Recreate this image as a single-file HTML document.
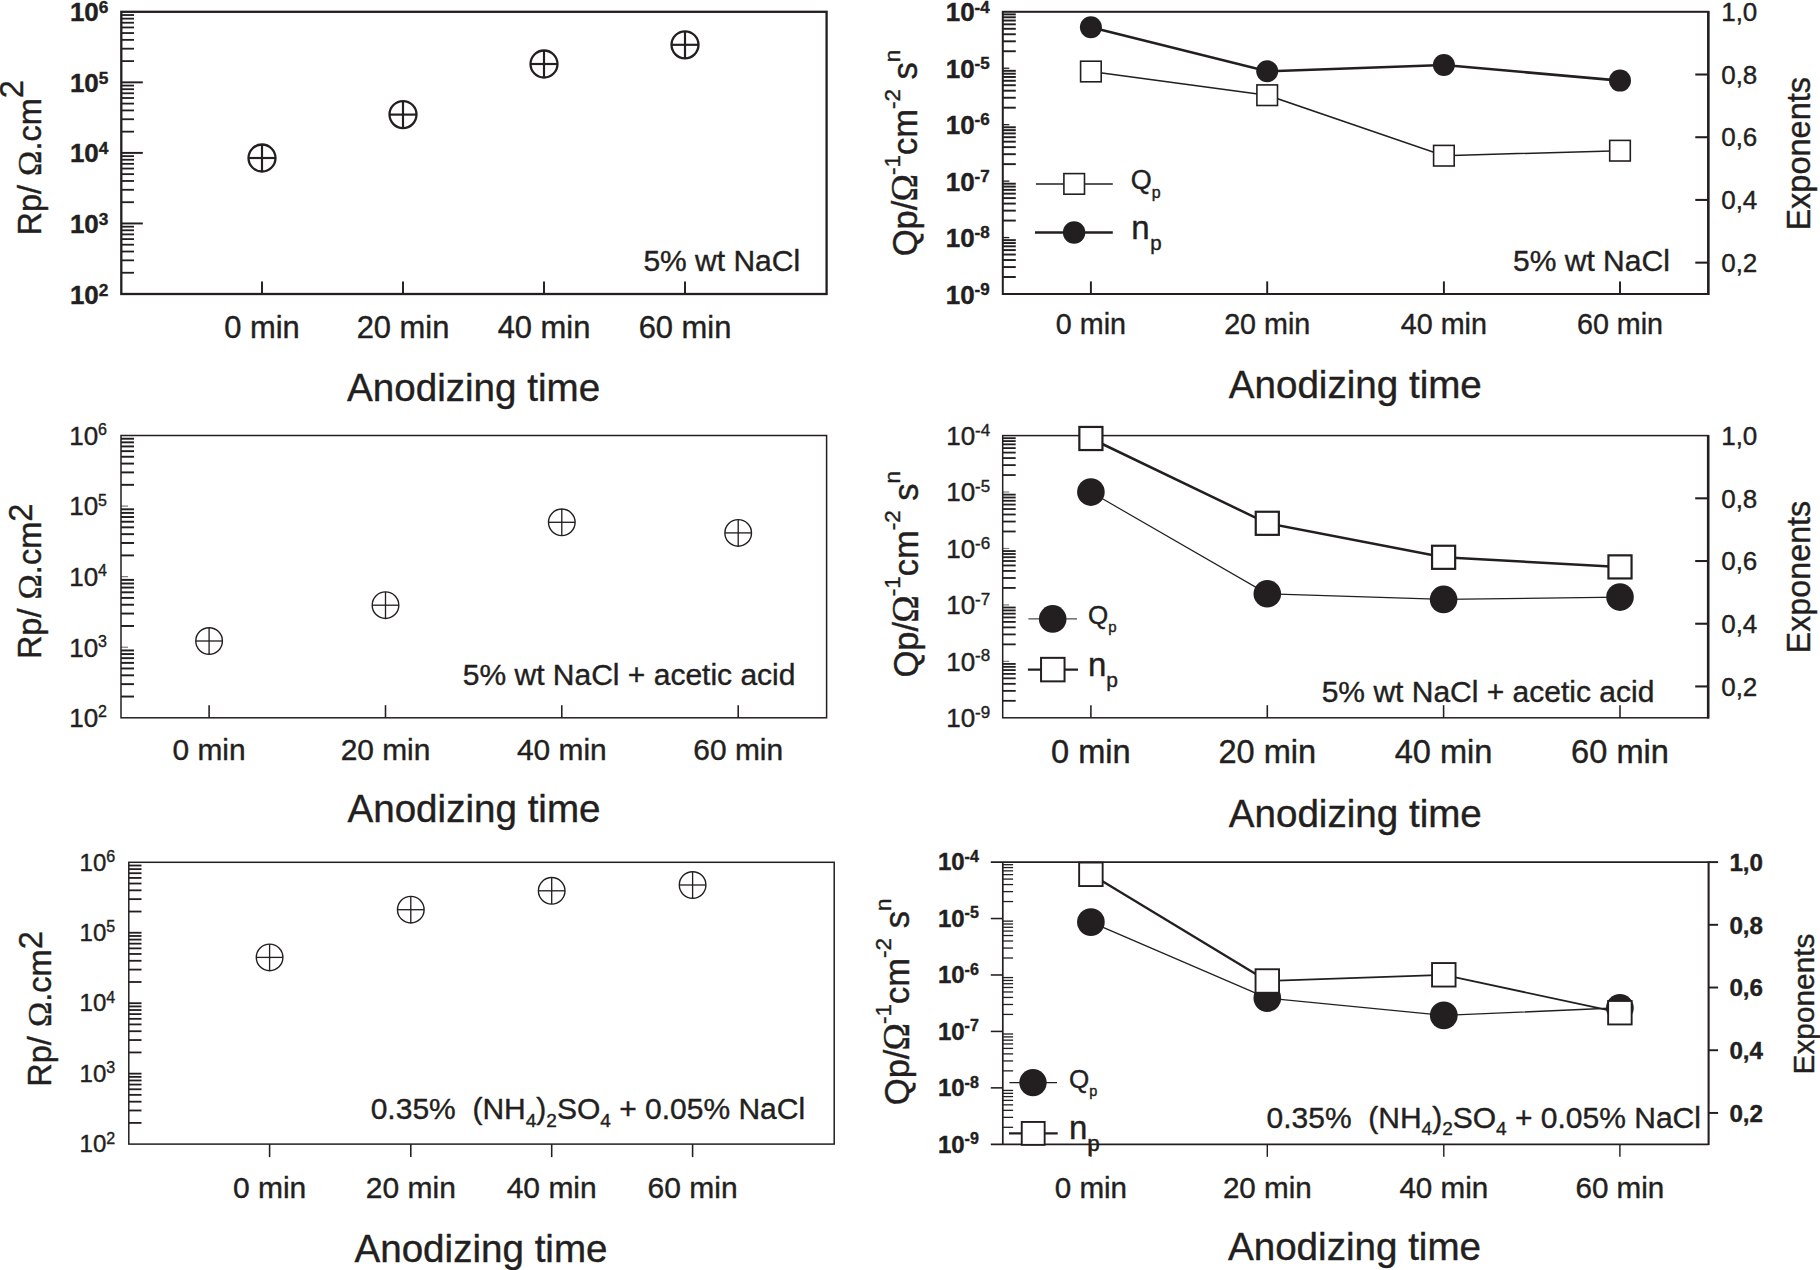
<!DOCTYPE html>
<html lang="en">
<head>
<meta charset="utf-8">
<title>Anodizing time plots</title>
<style>
html,body{margin:0;padding:0;background:#fff;}
body{width:1820px;height:1270px;overflow:hidden;}
svg{display:block;font-family:"Liberation Sans",Arial,Helvetica,sans-serif;fill:#231f20;}
text{stroke:#231f20;stroke-width:0.4px;stroke-linejoin:round;}
</style>
</head>
<body>
<svg width="1820" height="1270" viewBox="0 0 1820 1270">
<rect x="0" y="0" width="1820" height="1270" fill="#ffffff"/>
<line x1="121.3" y1="272.76" x2="134" y2="272.76" stroke="#231f20" stroke-width="1.82" stroke-linecap="butt"/>
<line x1="121.3" y1="260.34" x2="134" y2="260.34" stroke="#231f20" stroke-width="1.82" stroke-linecap="butt"/>
<line x1="121.3" y1="251.52" x2="134" y2="251.52" stroke="#231f20" stroke-width="1.82" stroke-linecap="butt"/>
<line x1="121.3" y1="244.69" x2="134" y2="244.69" stroke="#231f20" stroke-width="1.82" stroke-linecap="butt"/>
<line x1="121.3" y1="239.1" x2="134" y2="239.1" stroke="#231f20" stroke-width="1.82" stroke-linecap="butt"/>
<line x1="121.3" y1="234.38" x2="134" y2="234.38" stroke="#231f20" stroke-width="1.82" stroke-linecap="butt"/>
<line x1="121.3" y1="230.29" x2="134" y2="230.29" stroke="#231f20" stroke-width="1.82" stroke-linecap="butt"/>
<line x1="121.3" y1="226.68" x2="134" y2="226.68" stroke="#231f20" stroke-width="1.82" stroke-linecap="butt"/>
<line x1="121.3" y1="202.21" x2="134" y2="202.21" stroke="#231f20" stroke-width="1.82" stroke-linecap="butt"/>
<line x1="121.3" y1="189.79" x2="134" y2="189.79" stroke="#231f20" stroke-width="1.82" stroke-linecap="butt"/>
<line x1="121.3" y1="180.97" x2="134" y2="180.97" stroke="#231f20" stroke-width="1.82" stroke-linecap="butt"/>
<line x1="121.3" y1="174.14" x2="134" y2="174.14" stroke="#231f20" stroke-width="1.82" stroke-linecap="butt"/>
<line x1="121.3" y1="168.55" x2="134" y2="168.55" stroke="#231f20" stroke-width="1.82" stroke-linecap="butt"/>
<line x1="121.3" y1="163.83" x2="134" y2="163.83" stroke="#231f20" stroke-width="1.82" stroke-linecap="butt"/>
<line x1="121.3" y1="159.74" x2="134" y2="159.74" stroke="#231f20" stroke-width="1.82" stroke-linecap="butt"/>
<line x1="121.3" y1="156.13" x2="134" y2="156.13" stroke="#231f20" stroke-width="1.82" stroke-linecap="butt"/>
<line x1="121.3" y1="223.45" x2="142.8" y2="223.45" stroke="#231f20" stroke-width="1.95" stroke-linecap="butt"/>
<line x1="121.3" y1="131.66" x2="134" y2="131.66" stroke="#231f20" stroke-width="1.82" stroke-linecap="butt"/>
<line x1="121.3" y1="119.24" x2="134" y2="119.24" stroke="#231f20" stroke-width="1.82" stroke-linecap="butt"/>
<line x1="121.3" y1="110.42" x2="134" y2="110.42" stroke="#231f20" stroke-width="1.82" stroke-linecap="butt"/>
<line x1="121.3" y1="103.59" x2="134" y2="103.59" stroke="#231f20" stroke-width="1.82" stroke-linecap="butt"/>
<line x1="121.3" y1="98" x2="134" y2="98" stroke="#231f20" stroke-width="1.82" stroke-linecap="butt"/>
<line x1="121.3" y1="93.28" x2="134" y2="93.28" stroke="#231f20" stroke-width="1.82" stroke-linecap="butt"/>
<line x1="121.3" y1="89.19" x2="134" y2="89.19" stroke="#231f20" stroke-width="1.82" stroke-linecap="butt"/>
<line x1="121.3" y1="85.58" x2="134" y2="85.58" stroke="#231f20" stroke-width="1.82" stroke-linecap="butt"/>
<line x1="121.3" y1="152.9" x2="142.8" y2="152.9" stroke="#231f20" stroke-width="1.95" stroke-linecap="butt"/>
<line x1="121.3" y1="61.11" x2="134" y2="61.11" stroke="#231f20" stroke-width="1.82" stroke-linecap="butt"/>
<line x1="121.3" y1="48.69" x2="134" y2="48.69" stroke="#231f20" stroke-width="1.82" stroke-linecap="butt"/>
<line x1="121.3" y1="39.87" x2="134" y2="39.87" stroke="#231f20" stroke-width="1.82" stroke-linecap="butt"/>
<line x1="121.3" y1="33.04" x2="134" y2="33.04" stroke="#231f20" stroke-width="1.82" stroke-linecap="butt"/>
<line x1="121.3" y1="27.45" x2="134" y2="27.45" stroke="#231f20" stroke-width="1.82" stroke-linecap="butt"/>
<line x1="121.3" y1="22.73" x2="134" y2="22.73" stroke="#231f20" stroke-width="1.82" stroke-linecap="butt"/>
<line x1="121.3" y1="18.64" x2="134" y2="18.64" stroke="#231f20" stroke-width="1.82" stroke-linecap="butt"/>
<line x1="121.3" y1="15.03" x2="134" y2="15.03" stroke="#231f20" stroke-width="1.82" stroke-linecap="butt"/>
<line x1="121.3" y1="82.35" x2="142.8" y2="82.35" stroke="#231f20" stroke-width="1.95" stroke-linecap="butt"/>
<line x1="262" y1="294" x2="262" y2="281.4" stroke="#231f20" stroke-width="1.95" stroke-linecap="butt"/>
<line x1="403" y1="294" x2="403" y2="281.4" stroke="#231f20" stroke-width="1.95" stroke-linecap="butt"/>
<line x1="544" y1="294" x2="544" y2="281.4" stroke="#231f20" stroke-width="1.95" stroke-linecap="butt"/>
<line x1="685" y1="294" x2="685" y2="281.4" stroke="#231f20" stroke-width="1.95" stroke-linecap="butt"/>
<rect x="121.3" y="11.8" width="705.3" height="282.2" fill="none" stroke="#231f20" stroke-width="2.3"/>
<text x="69.9" y="21.3" font-size="26" font-weight="bold">10<tspan font-size="17.3" dy="-8">6</tspan></text>
<text x="69.9" y="91.85" font-size="26" font-weight="bold">10<tspan font-size="17.3" dy="-8">5</tspan></text>
<text x="69.9" y="162.4" font-size="26" font-weight="bold">10<tspan font-size="17.3" dy="-8">4</tspan></text>
<text x="69.9" y="232.95" font-size="26" font-weight="bold">10<tspan font-size="17.3" dy="-8">3</tspan></text>
<text x="69.9" y="303.5" font-size="26" font-weight="bold">10<tspan font-size="17.3" dy="-8">2</tspan></text>
<circle cx="262" cy="158" r="13.5" fill="none" stroke="#231f20" stroke-width="2.3"/>
<line x1="248.5" y1="158" x2="275.5" y2="158" stroke="#231f20" stroke-width="2.18" stroke-linecap="butt"/>
<line x1="262" y1="144.5" x2="262" y2="171.5" stroke="#231f20" stroke-width="2.18" stroke-linecap="butt"/>
<circle cx="403" cy="114.6" r="13.5" fill="none" stroke="#231f20" stroke-width="2.3"/>
<line x1="389.5" y1="114.6" x2="416.5" y2="114.6" stroke="#231f20" stroke-width="2.18" stroke-linecap="butt"/>
<line x1="403" y1="101.1" x2="403" y2="128.1" stroke="#231f20" stroke-width="2.18" stroke-linecap="butt"/>
<circle cx="544" cy="64" r="13.5" fill="none" stroke="#231f20" stroke-width="2.3"/>
<line x1="530.5" y1="64" x2="557.5" y2="64" stroke="#231f20" stroke-width="2.18" stroke-linecap="butt"/>
<line x1="544" y1="50.5" x2="544" y2="77.5" stroke="#231f20" stroke-width="2.18" stroke-linecap="butt"/>
<circle cx="685" cy="44.8" r="13.5" fill="none" stroke="#231f20" stroke-width="2.3"/>
<line x1="671.5" y1="44.8" x2="698.5" y2="44.8" stroke="#231f20" stroke-width="2.18" stroke-linecap="butt"/>
<line x1="685" y1="31.3" x2="685" y2="58.3" stroke="#231f20" stroke-width="2.18" stroke-linecap="butt"/>
<text x="643.4" y="270.8" font-size="30" font-weight="normal" text-anchor="start">5% wt NaCl</text>
<text x="262" y="337.7" font-size="30.9" font-weight="normal" text-anchor="middle">0 min</text>
<text x="403" y="337.7" font-size="30.9" font-weight="normal" text-anchor="middle">20 min</text>
<text x="544" y="337.7" font-size="30.9" font-weight="normal" text-anchor="middle">40 min</text>
<text x="685" y="337.7" font-size="30.9" font-weight="normal" text-anchor="middle">60 min</text>
<text x="473.6" y="401.4" font-size="38.6" font-weight="normal" text-anchor="middle">Anodizing time</text>
<text transform="translate(40.7 235.5) rotate(-90)" font-size="32.5" font-weight="normal">Rp/ <tspan font-family="'Liberation Serif','Times New Roman',serif" font-size="34.12" dx="0">Ω</tspan><tspan font-size="32.5">.cm</tspan><tspan font-size="32.5" dy="-17.3">2</tspan></text>
<line x1="121" y1="696.55" x2="134" y2="696.55" stroke="#231f20" stroke-width="1.95" stroke-linecap="butt"/>
<line x1="121" y1="684.13" x2="134" y2="684.13" stroke="#231f20" stroke-width="1.95" stroke-linecap="butt"/>
<line x1="121" y1="675.31" x2="134" y2="675.31" stroke="#231f20" stroke-width="1.95" stroke-linecap="butt"/>
<line x1="121" y1="668.47" x2="134" y2="668.47" stroke="#231f20" stroke-width="1.95" stroke-linecap="butt"/>
<line x1="121" y1="662.88" x2="134" y2="662.88" stroke="#231f20" stroke-width="1.95" stroke-linecap="butt"/>
<line x1="121" y1="658.16" x2="134" y2="658.16" stroke="#231f20" stroke-width="1.95" stroke-linecap="butt"/>
<line x1="121" y1="654.06" x2="134" y2="654.06" stroke="#231f20" stroke-width="1.95" stroke-linecap="butt"/>
<line x1="121" y1="650.45" x2="134" y2="650.45" stroke="#231f20" stroke-width="1.95" stroke-linecap="butt"/>
<line x1="121" y1="625.98" x2="134" y2="625.98" stroke="#231f20" stroke-width="1.95" stroke-linecap="butt"/>
<line x1="121" y1="613.55" x2="134" y2="613.55" stroke="#231f20" stroke-width="1.95" stroke-linecap="butt"/>
<line x1="121" y1="604.73" x2="134" y2="604.73" stroke="#231f20" stroke-width="1.95" stroke-linecap="butt"/>
<line x1="121" y1="597.9" x2="134" y2="597.9" stroke="#231f20" stroke-width="1.95" stroke-linecap="butt"/>
<line x1="121" y1="592.31" x2="134" y2="592.31" stroke="#231f20" stroke-width="1.95" stroke-linecap="butt"/>
<line x1="121" y1="587.58" x2="134" y2="587.58" stroke="#231f20" stroke-width="1.95" stroke-linecap="butt"/>
<line x1="121" y1="583.49" x2="134" y2="583.49" stroke="#231f20" stroke-width="1.95" stroke-linecap="butt"/>
<line x1="121" y1="579.88" x2="134" y2="579.88" stroke="#231f20" stroke-width="1.95" stroke-linecap="butt"/>
<line x1="121" y1="647.22" x2="128" y2="647.22" stroke="#777" stroke-width="1.17" stroke-linecap="butt"/>
<line x1="121" y1="555.4" x2="134" y2="555.4" stroke="#231f20" stroke-width="1.95" stroke-linecap="butt"/>
<line x1="121" y1="542.98" x2="134" y2="542.98" stroke="#231f20" stroke-width="1.95" stroke-linecap="butt"/>
<line x1="121" y1="534.16" x2="134" y2="534.16" stroke="#231f20" stroke-width="1.95" stroke-linecap="butt"/>
<line x1="121" y1="527.32" x2="134" y2="527.32" stroke="#231f20" stroke-width="1.95" stroke-linecap="butt"/>
<line x1="121" y1="521.73" x2="134" y2="521.73" stroke="#231f20" stroke-width="1.95" stroke-linecap="butt"/>
<line x1="121" y1="517.01" x2="134" y2="517.01" stroke="#231f20" stroke-width="1.95" stroke-linecap="butt"/>
<line x1="121" y1="512.91" x2="134" y2="512.91" stroke="#231f20" stroke-width="1.95" stroke-linecap="butt"/>
<line x1="121" y1="509.3" x2="134" y2="509.3" stroke="#231f20" stroke-width="1.95" stroke-linecap="butt"/>
<line x1="121" y1="576.65" x2="128" y2="576.65" stroke="#777" stroke-width="1.17" stroke-linecap="butt"/>
<line x1="121" y1="484.83" x2="134" y2="484.83" stroke="#231f20" stroke-width="1.95" stroke-linecap="butt"/>
<line x1="121" y1="472.4" x2="134" y2="472.4" stroke="#231f20" stroke-width="1.95" stroke-linecap="butt"/>
<line x1="121" y1="463.58" x2="134" y2="463.58" stroke="#231f20" stroke-width="1.95" stroke-linecap="butt"/>
<line x1="121" y1="456.75" x2="134" y2="456.75" stroke="#231f20" stroke-width="1.95" stroke-linecap="butt"/>
<line x1="121" y1="451.16" x2="134" y2="451.16" stroke="#231f20" stroke-width="1.95" stroke-linecap="butt"/>
<line x1="121" y1="446.43" x2="134" y2="446.43" stroke="#231f20" stroke-width="1.95" stroke-linecap="butt"/>
<line x1="121" y1="442.34" x2="134" y2="442.34" stroke="#231f20" stroke-width="1.95" stroke-linecap="butt"/>
<line x1="121" y1="438.73" x2="134" y2="438.73" stroke="#231f20" stroke-width="1.95" stroke-linecap="butt"/>
<line x1="121" y1="506.07" x2="128" y2="506.07" stroke="#777" stroke-width="1.17" stroke-linecap="butt"/>
<line x1="209.1" y1="717.8" x2="209.1" y2="705.2" stroke="#231f20" stroke-width="1.56" stroke-linecap="butt"/>
<line x1="385.5" y1="717.8" x2="385.5" y2="705.2" stroke="#231f20" stroke-width="1.56" stroke-linecap="butt"/>
<line x1="561.8" y1="717.8" x2="561.8" y2="705.2" stroke="#231f20" stroke-width="1.56" stroke-linecap="butt"/>
<line x1="738.2" y1="717.8" x2="738.2" y2="705.2" stroke="#231f20" stroke-width="1.56" stroke-linecap="butt"/>
<rect x="121" y="435.5" width="705.6" height="282.3" fill="none" stroke="#231f20" stroke-width="1.5"/>
<text x="69.2" y="444.8" font-size="26" font-weight="normal">10<tspan font-size="16" dy="-9.7">6</tspan></text>
<text x="69.2" y="515.38" font-size="26" font-weight="normal">10<tspan font-size="16" dy="-9.7">5</tspan></text>
<text x="69.2" y="585.95" font-size="26" font-weight="normal">10<tspan font-size="16" dy="-9.7">4</tspan></text>
<text x="69.2" y="656.52" font-size="26" font-weight="normal">10<tspan font-size="16" dy="-9.7">3</tspan></text>
<text x="69.2" y="727.1" font-size="26" font-weight="normal">10<tspan font-size="16" dy="-9.7">2</tspan></text>
<circle cx="209.1" cy="641" r="13.3" fill="none" stroke="#231f20" stroke-width="1.4"/>
<line x1="195.8" y1="641" x2="222.4" y2="641" stroke="#231f20" stroke-width="1.33" stroke-linecap="butt"/>
<line x1="209.1" y1="627.7" x2="209.1" y2="654.3" stroke="#231f20" stroke-width="1.33" stroke-linecap="butt"/>
<circle cx="385.5" cy="605.2" r="13.3" fill="none" stroke="#231f20" stroke-width="1.4"/>
<line x1="372.2" y1="605.2" x2="398.8" y2="605.2" stroke="#231f20" stroke-width="1.33" stroke-linecap="butt"/>
<line x1="385.5" y1="591.9" x2="385.5" y2="618.5" stroke="#231f20" stroke-width="1.33" stroke-linecap="butt"/>
<circle cx="561.8" cy="522.3" r="13.3" fill="none" stroke="#231f20" stroke-width="1.4"/>
<line x1="548.5" y1="522.3" x2="575.1" y2="522.3" stroke="#231f20" stroke-width="1.33" stroke-linecap="butt"/>
<line x1="561.8" y1="509" x2="561.8" y2="535.6" stroke="#231f20" stroke-width="1.33" stroke-linecap="butt"/>
<circle cx="738.2" cy="532.9" r="13.3" fill="none" stroke="#231f20" stroke-width="1.4"/>
<line x1="724.9" y1="532.9" x2="751.5" y2="532.9" stroke="#231f20" stroke-width="1.33" stroke-linecap="butt"/>
<line x1="738.2" y1="519.6" x2="738.2" y2="546.2" stroke="#231f20" stroke-width="1.33" stroke-linecap="butt"/>
<text x="462.8" y="684.6" font-size="30" font-weight="normal" text-anchor="start">5% wt NaCl + acetic acid</text>
<text x="209.1" y="759.5" font-size="29.9" font-weight="normal" text-anchor="middle">0 min</text>
<text x="385.5" y="759.5" font-size="29.9" font-weight="normal" text-anchor="middle">20 min</text>
<text x="561.8" y="759.5" font-size="29.9" font-weight="normal" text-anchor="middle">40 min</text>
<text x="738.2" y="759.5" font-size="29.9" font-weight="normal" text-anchor="middle">60 min</text>
<text x="474" y="822.4" font-size="38.6" font-weight="normal" text-anchor="middle">Anodizing time</text>
<text transform="translate(40.6 659.1) rotate(-90)" font-size="32.5" font-weight="normal">Rp/ <tspan font-family="'Liberation Serif','Times New Roman',serif" font-size="34.12" dx="0">Ω</tspan><tspan font-size="32.5">.cm</tspan><tspan font-size="32.5" dy="-8.3">2</tspan></text>
<line x1="128.8" y1="1122.89" x2="141.5" y2="1122.89" stroke="#231f20" stroke-width="1.82" stroke-linecap="butt"/>
<line x1="128.8" y1="1110.49" x2="141.5" y2="1110.49" stroke="#231f20" stroke-width="1.82" stroke-linecap="butt"/>
<line x1="128.8" y1="1101.68" x2="141.5" y2="1101.68" stroke="#231f20" stroke-width="1.82" stroke-linecap="butt"/>
<line x1="128.8" y1="1094.86" x2="141.5" y2="1094.86" stroke="#231f20" stroke-width="1.82" stroke-linecap="butt"/>
<line x1="128.8" y1="1089.28" x2="141.5" y2="1089.28" stroke="#231f20" stroke-width="1.82" stroke-linecap="butt"/>
<line x1="128.8" y1="1084.56" x2="141.5" y2="1084.56" stroke="#231f20" stroke-width="1.82" stroke-linecap="butt"/>
<line x1="128.8" y1="1080.48" x2="141.5" y2="1080.48" stroke="#231f20" stroke-width="1.82" stroke-linecap="butt"/>
<line x1="128.8" y1="1076.87" x2="141.5" y2="1076.87" stroke="#231f20" stroke-width="1.82" stroke-linecap="butt"/>
<line x1="128.8" y1="1052.44" x2="141.5" y2="1052.44" stroke="#231f20" stroke-width="1.82" stroke-linecap="butt"/>
<line x1="128.8" y1="1040.04" x2="141.5" y2="1040.04" stroke="#231f20" stroke-width="1.82" stroke-linecap="butt"/>
<line x1="128.8" y1="1031.23" x2="141.5" y2="1031.23" stroke="#231f20" stroke-width="1.82" stroke-linecap="butt"/>
<line x1="128.8" y1="1024.41" x2="141.5" y2="1024.41" stroke="#231f20" stroke-width="1.82" stroke-linecap="butt"/>
<line x1="128.8" y1="1018.83" x2="141.5" y2="1018.83" stroke="#231f20" stroke-width="1.82" stroke-linecap="butt"/>
<line x1="128.8" y1="1014.11" x2="141.5" y2="1014.11" stroke="#231f20" stroke-width="1.82" stroke-linecap="butt"/>
<line x1="128.8" y1="1010.03" x2="141.5" y2="1010.03" stroke="#231f20" stroke-width="1.82" stroke-linecap="butt"/>
<line x1="128.8" y1="1006.42" x2="141.5" y2="1006.42" stroke="#231f20" stroke-width="1.82" stroke-linecap="butt"/>
<line x1="128.8" y1="1073.65" x2="141.5" y2="1073.65" stroke="#231f20" stroke-width="1.82" stroke-linecap="butt"/>
<line x1="128.8" y1="981.99" x2="141.5" y2="981.99" stroke="#231f20" stroke-width="1.82" stroke-linecap="butt"/>
<line x1="128.8" y1="969.59" x2="141.5" y2="969.59" stroke="#231f20" stroke-width="1.82" stroke-linecap="butt"/>
<line x1="128.8" y1="960.78" x2="141.5" y2="960.78" stroke="#231f20" stroke-width="1.82" stroke-linecap="butt"/>
<line x1="128.8" y1="953.96" x2="141.5" y2="953.96" stroke="#231f20" stroke-width="1.82" stroke-linecap="butt"/>
<line x1="128.8" y1="948.38" x2="141.5" y2="948.38" stroke="#231f20" stroke-width="1.82" stroke-linecap="butt"/>
<line x1="128.8" y1="943.66" x2="141.5" y2="943.66" stroke="#231f20" stroke-width="1.82" stroke-linecap="butt"/>
<line x1="128.8" y1="939.58" x2="141.5" y2="939.58" stroke="#231f20" stroke-width="1.82" stroke-linecap="butt"/>
<line x1="128.8" y1="935.97" x2="141.5" y2="935.97" stroke="#231f20" stroke-width="1.82" stroke-linecap="butt"/>
<line x1="128.8" y1="1003.2" x2="141.5" y2="1003.2" stroke="#231f20" stroke-width="1.82" stroke-linecap="butt"/>
<line x1="128.8" y1="911.54" x2="141.5" y2="911.54" stroke="#231f20" stroke-width="1.82" stroke-linecap="butt"/>
<line x1="128.8" y1="899.14" x2="141.5" y2="899.14" stroke="#231f20" stroke-width="1.82" stroke-linecap="butt"/>
<line x1="128.8" y1="890.33" x2="141.5" y2="890.33" stroke="#231f20" stroke-width="1.82" stroke-linecap="butt"/>
<line x1="128.8" y1="883.51" x2="141.5" y2="883.51" stroke="#231f20" stroke-width="1.82" stroke-linecap="butt"/>
<line x1="128.8" y1="877.93" x2="141.5" y2="877.93" stroke="#231f20" stroke-width="1.82" stroke-linecap="butt"/>
<line x1="128.8" y1="873.21" x2="141.5" y2="873.21" stroke="#231f20" stroke-width="1.82" stroke-linecap="butt"/>
<line x1="128.8" y1="869.13" x2="141.5" y2="869.13" stroke="#231f20" stroke-width="1.82" stroke-linecap="butt"/>
<line x1="128.8" y1="865.52" x2="141.5" y2="865.52" stroke="#231f20" stroke-width="1.82" stroke-linecap="butt"/>
<line x1="128.8" y1="932.75" x2="141.5" y2="932.75" stroke="#231f20" stroke-width="1.82" stroke-linecap="butt"/>
<line x1="269.6" y1="1144.1" x2="269.6" y2="1157.1" stroke="#231f20" stroke-width="1.56" stroke-linecap="butt"/>
<line x1="410.8" y1="1144.1" x2="410.8" y2="1157.1" stroke="#231f20" stroke-width="1.56" stroke-linecap="butt"/>
<line x1="551.7" y1="1144.1" x2="551.7" y2="1157.1" stroke="#231f20" stroke-width="1.56" stroke-linecap="butt"/>
<line x1="692.6" y1="1144.1" x2="692.6" y2="1157.1" stroke="#231f20" stroke-width="1.56" stroke-linecap="butt"/>
<rect x="128.8" y="862.3" width="705.4" height="281.8" fill="none" stroke="#231f20" stroke-width="1.5"/>
<text x="79.6" y="870.5" font-size="24" font-weight="normal">10<tspan font-size="16" dy="-8.6">6</tspan></text>
<text x="79.6" y="940.95" font-size="24" font-weight="normal">10<tspan font-size="16" dy="-8.6">5</tspan></text>
<text x="79.6" y="1011.4" font-size="24" font-weight="normal">10<tspan font-size="16" dy="-8.6">4</tspan></text>
<text x="79.6" y="1081.85" font-size="24" font-weight="normal">10<tspan font-size="16" dy="-8.6">3</tspan></text>
<text x="79.6" y="1152.3" font-size="24" font-weight="normal">10<tspan font-size="16" dy="-8.6">2</tspan></text>
<circle cx="269.6" cy="957.4" r="13.3" fill="none" stroke="#231f20" stroke-width="1.4"/>
<line x1="256.3" y1="957.4" x2="282.9" y2="957.4" stroke="#231f20" stroke-width="1.33" stroke-linecap="butt"/>
<line x1="269.6" y1="944.1" x2="269.6" y2="970.7" stroke="#231f20" stroke-width="1.33" stroke-linecap="butt"/>
<circle cx="410.8" cy="909.7" r="13.3" fill="none" stroke="#231f20" stroke-width="1.4"/>
<line x1="397.5" y1="909.7" x2="424.1" y2="909.7" stroke="#231f20" stroke-width="1.33" stroke-linecap="butt"/>
<line x1="410.8" y1="896.4" x2="410.8" y2="923" stroke="#231f20" stroke-width="1.33" stroke-linecap="butt"/>
<circle cx="551.7" cy="890.8" r="13.3" fill="none" stroke="#231f20" stroke-width="1.4"/>
<line x1="538.4" y1="890.8" x2="565" y2="890.8" stroke="#231f20" stroke-width="1.33" stroke-linecap="butt"/>
<line x1="551.7" y1="877.5" x2="551.7" y2="904.1" stroke="#231f20" stroke-width="1.33" stroke-linecap="butt"/>
<circle cx="692.6" cy="885" r="13.3" fill="none" stroke="#231f20" stroke-width="1.4"/>
<line x1="679.3" y1="885" x2="705.9" y2="885" stroke="#231f20" stroke-width="1.33" stroke-linecap="butt"/>
<line x1="692.6" y1="871.7" x2="692.6" y2="898.3" stroke="#231f20" stroke-width="1.33" stroke-linecap="butt"/>
<text x="370.7" y="1119.4" font-size="30" font-weight="normal" text-anchor="start">0.35%&#160; (NH<tspan font-size="19" dy="7.5">4</tspan><tspan dy="-7.5">)</tspan><tspan font-size="19" dy="7.5">2</tspan><tspan dy="-7.5">SO</tspan><tspan font-size="19" dy="7.5">4</tspan><tspan dy="-7.5"> + 0.05% NaCl</tspan></text>
<text x="269.6" y="1198" font-size="30" font-weight="normal" text-anchor="middle">0 min</text>
<text x="410.8" y="1198" font-size="30" font-weight="normal" text-anchor="middle">20 min</text>
<text x="551.7" y="1198" font-size="30" font-weight="normal" text-anchor="middle">40 min</text>
<text x="692.6" y="1198" font-size="30" font-weight="normal" text-anchor="middle">60 min</text>
<text x="481" y="1262.3" font-size="38.6" font-weight="normal" text-anchor="middle">Anodizing time</text>
<text transform="translate(51.2 1086.7) rotate(-90)" font-size="32.5" font-weight="normal">Rp/ <tspan font-family="'Liberation Serif','Times New Roman',serif" font-size="34.12" dx="0">Ω</tspan><tspan font-size="32.5">.cm</tspan><tspan font-size="32.5" dy="-9">2</tspan></text>
<line x1="1002.8" y1="277.01" x2="1015.8" y2="277.01" stroke="#231f20" stroke-width="1.95" stroke-linecap="butt"/>
<line x1="1002.8" y1="267.07" x2="1015.8" y2="267.07" stroke="#231f20" stroke-width="1.95" stroke-linecap="butt"/>
<line x1="1002.8" y1="260.02" x2="1015.8" y2="260.02" stroke="#231f20" stroke-width="1.95" stroke-linecap="butt"/>
<line x1="1002.8" y1="254.55" x2="1015.8" y2="254.55" stroke="#231f20" stroke-width="1.95" stroke-linecap="butt"/>
<line x1="1002.8" y1="250.08" x2="1015.8" y2="250.08" stroke="#231f20" stroke-width="1.95" stroke-linecap="butt"/>
<line x1="1002.8" y1="246.3" x2="1015.8" y2="246.3" stroke="#231f20" stroke-width="1.95" stroke-linecap="butt"/>
<line x1="1002.8" y1="243.03" x2="1015.8" y2="243.03" stroke="#231f20" stroke-width="1.95" stroke-linecap="butt"/>
<line x1="1002.8" y1="240.14" x2="1015.8" y2="240.14" stroke="#231f20" stroke-width="1.95" stroke-linecap="butt"/>
<line x1="1002.8" y1="220.57" x2="1015.8" y2="220.57" stroke="#231f20" stroke-width="1.95" stroke-linecap="butt"/>
<line x1="1002.8" y1="210.63" x2="1015.8" y2="210.63" stroke="#231f20" stroke-width="1.95" stroke-linecap="butt"/>
<line x1="1002.8" y1="203.58" x2="1015.8" y2="203.58" stroke="#231f20" stroke-width="1.95" stroke-linecap="butt"/>
<line x1="1002.8" y1="198.11" x2="1015.8" y2="198.11" stroke="#231f20" stroke-width="1.95" stroke-linecap="butt"/>
<line x1="1002.8" y1="193.64" x2="1015.8" y2="193.64" stroke="#231f20" stroke-width="1.95" stroke-linecap="butt"/>
<line x1="1002.8" y1="189.86" x2="1015.8" y2="189.86" stroke="#231f20" stroke-width="1.95" stroke-linecap="butt"/>
<line x1="1002.8" y1="186.59" x2="1015.8" y2="186.59" stroke="#231f20" stroke-width="1.95" stroke-linecap="butt"/>
<line x1="1002.8" y1="183.7" x2="1015.8" y2="183.7" stroke="#231f20" stroke-width="1.95" stroke-linecap="butt"/>
<line x1="1002.8" y1="237.56" x2="1009.3" y2="237.56" stroke="#231f20" stroke-width="1.3" stroke-linecap="butt"/>
<line x1="1002.8" y1="164.13" x2="1015.8" y2="164.13" stroke="#231f20" stroke-width="1.95" stroke-linecap="butt"/>
<line x1="1002.8" y1="154.19" x2="1015.8" y2="154.19" stroke="#231f20" stroke-width="1.95" stroke-linecap="butt"/>
<line x1="1002.8" y1="147.14" x2="1015.8" y2="147.14" stroke="#231f20" stroke-width="1.95" stroke-linecap="butt"/>
<line x1="1002.8" y1="141.67" x2="1015.8" y2="141.67" stroke="#231f20" stroke-width="1.95" stroke-linecap="butt"/>
<line x1="1002.8" y1="137.2" x2="1015.8" y2="137.2" stroke="#231f20" stroke-width="1.95" stroke-linecap="butt"/>
<line x1="1002.8" y1="133.42" x2="1015.8" y2="133.42" stroke="#231f20" stroke-width="1.95" stroke-linecap="butt"/>
<line x1="1002.8" y1="130.15" x2="1015.8" y2="130.15" stroke="#231f20" stroke-width="1.95" stroke-linecap="butt"/>
<line x1="1002.8" y1="127.26" x2="1015.8" y2="127.26" stroke="#231f20" stroke-width="1.95" stroke-linecap="butt"/>
<line x1="1002.8" y1="181.12" x2="1009.3" y2="181.12" stroke="#231f20" stroke-width="1.3" stroke-linecap="butt"/>
<line x1="1002.8" y1="107.69" x2="1015.8" y2="107.69" stroke="#231f20" stroke-width="1.95" stroke-linecap="butt"/>
<line x1="1002.8" y1="97.75" x2="1015.8" y2="97.75" stroke="#231f20" stroke-width="1.95" stroke-linecap="butt"/>
<line x1="1002.8" y1="90.7" x2="1015.8" y2="90.7" stroke="#231f20" stroke-width="1.95" stroke-linecap="butt"/>
<line x1="1002.8" y1="85.23" x2="1015.8" y2="85.23" stroke="#231f20" stroke-width="1.95" stroke-linecap="butt"/>
<line x1="1002.8" y1="80.76" x2="1015.8" y2="80.76" stroke="#231f20" stroke-width="1.95" stroke-linecap="butt"/>
<line x1="1002.8" y1="76.98" x2="1015.8" y2="76.98" stroke="#231f20" stroke-width="1.95" stroke-linecap="butt"/>
<line x1="1002.8" y1="73.71" x2="1015.8" y2="73.71" stroke="#231f20" stroke-width="1.95" stroke-linecap="butt"/>
<line x1="1002.8" y1="70.82" x2="1015.8" y2="70.82" stroke="#231f20" stroke-width="1.95" stroke-linecap="butt"/>
<line x1="1002.8" y1="124.68" x2="1009.3" y2="124.68" stroke="#231f20" stroke-width="1.3" stroke-linecap="butt"/>
<line x1="1002.8" y1="51.25" x2="1015.8" y2="51.25" stroke="#231f20" stroke-width="1.95" stroke-linecap="butt"/>
<line x1="1002.8" y1="41.31" x2="1015.8" y2="41.31" stroke="#231f20" stroke-width="1.95" stroke-linecap="butt"/>
<line x1="1002.8" y1="34.26" x2="1015.8" y2="34.26" stroke="#231f20" stroke-width="1.95" stroke-linecap="butt"/>
<line x1="1002.8" y1="28.79" x2="1015.8" y2="28.79" stroke="#231f20" stroke-width="1.95" stroke-linecap="butt"/>
<line x1="1002.8" y1="24.32" x2="1015.8" y2="24.32" stroke="#231f20" stroke-width="1.95" stroke-linecap="butt"/>
<line x1="1002.8" y1="20.54" x2="1015.8" y2="20.54" stroke="#231f20" stroke-width="1.95" stroke-linecap="butt"/>
<line x1="1002.8" y1="17.27" x2="1015.8" y2="17.27" stroke="#231f20" stroke-width="1.95" stroke-linecap="butt"/>
<line x1="1002.8" y1="14.38" x2="1015.8" y2="14.38" stroke="#231f20" stroke-width="1.95" stroke-linecap="butt"/>
<line x1="1002.8" y1="68.24" x2="1009.3" y2="68.24" stroke="#231f20" stroke-width="1.3" stroke-linecap="butt"/>
<line x1="1090.9" y1="294" x2="1090.9" y2="281.4" stroke="#231f20" stroke-width="1.95" stroke-linecap="butt"/>
<line x1="1267.2" y1="294" x2="1267.2" y2="281.4" stroke="#231f20" stroke-width="1.95" stroke-linecap="butt"/>
<line x1="1443.9" y1="294" x2="1443.9" y2="281.4" stroke="#231f20" stroke-width="1.95" stroke-linecap="butt"/>
<line x1="1620" y1="294" x2="1620" y2="281.4" stroke="#231f20" stroke-width="1.95" stroke-linecap="butt"/>
<text x="1721.2" y="21" font-size="26" font-weight="normal" text-anchor="start">1,0</text>
<line x1="1708.3" y1="74.51" x2="1695.3" y2="74.51" stroke="#231f20" stroke-width="2.08" stroke-linecap="butt"/>
<text x="1721.2" y="83.71" font-size="26" font-weight="normal" text-anchor="start">0,8</text>
<line x1="1708.3" y1="137.22" x2="1695.3" y2="137.22" stroke="#231f20" stroke-width="2.08" stroke-linecap="butt"/>
<text x="1721.2" y="146.42" font-size="26" font-weight="normal" text-anchor="start">0,6</text>
<line x1="1708.3" y1="199.93" x2="1695.3" y2="199.93" stroke="#231f20" stroke-width="2.08" stroke-linecap="butt"/>
<text x="1721.2" y="209.13" font-size="26" font-weight="normal" text-anchor="start">0,4</text>
<line x1="1708.3" y1="262.64" x2="1695.3" y2="262.64" stroke="#231f20" stroke-width="2.08" stroke-linecap="butt"/>
<text x="1721.2" y="271.84" font-size="26" font-weight="normal" text-anchor="start">0,2</text>
<rect x="1002.8" y="11.8" width="705.5" height="282.2" fill="none" stroke="#231f20" stroke-width="2.0"/>
<line x1="1708.3" y1="10.9" x2="1708.3" y2="294.9" stroke="#231f20" stroke-width="2.4" stroke-linecap="butt"/>
<text x="945.7" y="21.3" font-size="26" font-weight="bold">10<tspan font-size="17" dy="-8.7">-4</tspan></text>
<text x="945.7" y="77.74" font-size="26" font-weight="bold">10<tspan font-size="17" dy="-8.7">-5</tspan></text>
<text x="945.7" y="134.18" font-size="26" font-weight="bold">10<tspan font-size="17" dy="-8.7">-6</tspan></text>
<text x="945.7" y="190.62" font-size="26" font-weight="bold">10<tspan font-size="17" dy="-8.7">-7</tspan></text>
<text x="945.7" y="247.06" font-size="26" font-weight="bold">10<tspan font-size="17" dy="-8.7">-8</tspan></text>
<text x="945.7" y="303.5" font-size="26" font-weight="bold">10<tspan font-size="17" dy="-8.7">-9</tspan></text>
<polyline fill="none" stroke="#231f20" stroke-width="1.5" points="1090.9,71.5 1267.2,95.2 1443.9,155.7 1620,150.7"/>
<polyline fill="none" stroke="#231f20" stroke-width="2.6" points="1090.9,27.2 1267.2,71.3 1443.9,65 1620,80.6"/>
<rect x="1080.6" y="61.2" width="20.6" height="20.6" fill="#fff" stroke="#231f20" stroke-width="1.6"/>
<rect x="1256.9" y="84.9" width="20.6" height="20.6" fill="#fff" stroke="#231f20" stroke-width="1.6"/>
<rect x="1433.6" y="145.4" width="20.6" height="20.6" fill="#fff" stroke="#231f20" stroke-width="1.6"/>
<rect x="1609.7" y="140.4" width="20.6" height="20.6" fill="#fff" stroke="#231f20" stroke-width="1.6"/>
<circle cx="1090.9" cy="27.2" r="11" fill="#231f20"/>
<circle cx="1267.2" cy="71.3" r="11" fill="#231f20"/>
<circle cx="1443.9" cy="65" r="11" fill="#231f20"/>
<circle cx="1620" cy="80.6" r="11" fill="#231f20"/>
<line x1="1035.9" y1="183.9" x2="1112.8" y2="183.9" stroke="#231f20" stroke-width="1.5" stroke-linecap="butt"/>
<rect x="1063.9" y="173.6" width="20.6" height="20.6" fill="#fff" stroke="#231f20" stroke-width="1.6"/>
<line x1="1035" y1="232.5" x2="1112.8" y2="232.5" stroke="#231f20" stroke-width="2.5" stroke-linecap="butt"/>
<circle cx="1074.1" cy="232.5" r="11.2" fill="#231f20"/>
<text x="1130.8" y="188.7" font-size="27" font-weight="normal" text-anchor="start">Q<tspan font-size="16" dy="9.3">p</tspan></text>
<text x="1131.2" y="238.6" font-size="33" font-weight="normal" text-anchor="start">n<tspan font-size="20.5" dx="0.6" dy="11">p</tspan></text>
<text x="1513.1" y="270.8" font-size="30" font-weight="normal" text-anchor="start">5% wt NaCl</text>
<text x="1090.9" y="334.2" font-size="28.7" font-weight="normal" text-anchor="middle">0 min</text>
<text x="1267.2" y="334.2" font-size="28.7" font-weight="normal" text-anchor="middle">20 min</text>
<text x="1443.9" y="334.2" font-size="28.7" font-weight="normal" text-anchor="middle">40 min</text>
<text x="1620" y="334.2" font-size="28.7" font-weight="normal" text-anchor="middle">60 min</text>
<text x="1355.3" y="397.7" font-size="38.6" font-weight="normal" text-anchor="middle">Anodizing time</text>
<text transform="translate(917.2 256.3) rotate(-90)" font-size="34.5" font-weight="normal">Qp/<tspan font-family="'Liberation Serif','Times New Roman',serif" font-size="36.91" dx="-0.9">Ω</tspan><tspan font-size="22.5" dx="-0.9" dy="-17.2">-1</tspan><tspan font-size="34.5" dy="17.2">cm</tspan><tspan font-size="22.5" dy="-17.2">-2</tspan><tspan font-size="34.5" dy="17.2"> s</tspan><tspan font-size="22.5" dy="-17.2">n</tspan></text>
<text transform="translate(1810 230.6) rotate(-90)" font-size="32.5" font-weight="normal">Exponents</text>
<line x1="1002.7" y1="700.81" x2="1015.7" y2="700.81" stroke="#231f20" stroke-width="1.82" stroke-linecap="butt"/>
<line x1="1002.7" y1="690.87" x2="1015.7" y2="690.87" stroke="#231f20" stroke-width="1.82" stroke-linecap="butt"/>
<line x1="1002.7" y1="683.82" x2="1015.7" y2="683.82" stroke="#231f20" stroke-width="1.82" stroke-linecap="butt"/>
<line x1="1002.7" y1="678.35" x2="1015.7" y2="678.35" stroke="#231f20" stroke-width="1.82" stroke-linecap="butt"/>
<line x1="1002.7" y1="673.88" x2="1015.7" y2="673.88" stroke="#231f20" stroke-width="1.82" stroke-linecap="butt"/>
<line x1="1002.7" y1="670.1" x2="1015.7" y2="670.1" stroke="#231f20" stroke-width="1.82" stroke-linecap="butt"/>
<line x1="1002.7" y1="666.83" x2="1015.7" y2="666.83" stroke="#231f20" stroke-width="1.82" stroke-linecap="butt"/>
<line x1="1002.7" y1="663.94" x2="1015.7" y2="663.94" stroke="#231f20" stroke-width="1.82" stroke-linecap="butt"/>
<line x1="1002.7" y1="644.37" x2="1015.7" y2="644.37" stroke="#231f20" stroke-width="1.82" stroke-linecap="butt"/>
<line x1="1002.7" y1="634.43" x2="1015.7" y2="634.43" stroke="#231f20" stroke-width="1.82" stroke-linecap="butt"/>
<line x1="1002.7" y1="627.38" x2="1015.7" y2="627.38" stroke="#231f20" stroke-width="1.82" stroke-linecap="butt"/>
<line x1="1002.7" y1="621.91" x2="1015.7" y2="621.91" stroke="#231f20" stroke-width="1.82" stroke-linecap="butt"/>
<line x1="1002.7" y1="617.44" x2="1015.7" y2="617.44" stroke="#231f20" stroke-width="1.82" stroke-linecap="butt"/>
<line x1="1002.7" y1="613.66" x2="1015.7" y2="613.66" stroke="#231f20" stroke-width="1.82" stroke-linecap="butt"/>
<line x1="1002.7" y1="610.39" x2="1015.7" y2="610.39" stroke="#231f20" stroke-width="1.82" stroke-linecap="butt"/>
<line x1="1002.7" y1="607.5" x2="1015.7" y2="607.5" stroke="#231f20" stroke-width="1.82" stroke-linecap="butt"/>
<line x1="1002.7" y1="661.36" x2="1009.2" y2="661.36" stroke="#777" stroke-width="1.17" stroke-linecap="butt"/>
<line x1="1002.7" y1="587.93" x2="1015.7" y2="587.93" stroke="#231f20" stroke-width="1.82" stroke-linecap="butt"/>
<line x1="1002.7" y1="577.99" x2="1015.7" y2="577.99" stroke="#231f20" stroke-width="1.82" stroke-linecap="butt"/>
<line x1="1002.7" y1="570.94" x2="1015.7" y2="570.94" stroke="#231f20" stroke-width="1.82" stroke-linecap="butt"/>
<line x1="1002.7" y1="565.47" x2="1015.7" y2="565.47" stroke="#231f20" stroke-width="1.82" stroke-linecap="butt"/>
<line x1="1002.7" y1="561" x2="1015.7" y2="561" stroke="#231f20" stroke-width="1.82" stroke-linecap="butt"/>
<line x1="1002.7" y1="557.22" x2="1015.7" y2="557.22" stroke="#231f20" stroke-width="1.82" stroke-linecap="butt"/>
<line x1="1002.7" y1="553.95" x2="1015.7" y2="553.95" stroke="#231f20" stroke-width="1.82" stroke-linecap="butt"/>
<line x1="1002.7" y1="551.06" x2="1015.7" y2="551.06" stroke="#231f20" stroke-width="1.82" stroke-linecap="butt"/>
<line x1="1002.7" y1="604.92" x2="1009.2" y2="604.92" stroke="#777" stroke-width="1.17" stroke-linecap="butt"/>
<line x1="1002.7" y1="531.49" x2="1015.7" y2="531.49" stroke="#231f20" stroke-width="1.82" stroke-linecap="butt"/>
<line x1="1002.7" y1="521.55" x2="1015.7" y2="521.55" stroke="#231f20" stroke-width="1.82" stroke-linecap="butt"/>
<line x1="1002.7" y1="514.5" x2="1015.7" y2="514.5" stroke="#231f20" stroke-width="1.82" stroke-linecap="butt"/>
<line x1="1002.7" y1="509.03" x2="1015.7" y2="509.03" stroke="#231f20" stroke-width="1.82" stroke-linecap="butt"/>
<line x1="1002.7" y1="504.56" x2="1015.7" y2="504.56" stroke="#231f20" stroke-width="1.82" stroke-linecap="butt"/>
<line x1="1002.7" y1="500.78" x2="1015.7" y2="500.78" stroke="#231f20" stroke-width="1.82" stroke-linecap="butt"/>
<line x1="1002.7" y1="497.51" x2="1015.7" y2="497.51" stroke="#231f20" stroke-width="1.82" stroke-linecap="butt"/>
<line x1="1002.7" y1="494.62" x2="1015.7" y2="494.62" stroke="#231f20" stroke-width="1.82" stroke-linecap="butt"/>
<line x1="1002.7" y1="548.48" x2="1009.2" y2="548.48" stroke="#777" stroke-width="1.17" stroke-linecap="butt"/>
<line x1="1002.7" y1="475.05" x2="1015.7" y2="475.05" stroke="#231f20" stroke-width="1.82" stroke-linecap="butt"/>
<line x1="1002.7" y1="465.11" x2="1015.7" y2="465.11" stroke="#231f20" stroke-width="1.82" stroke-linecap="butt"/>
<line x1="1002.7" y1="458.06" x2="1015.7" y2="458.06" stroke="#231f20" stroke-width="1.82" stroke-linecap="butt"/>
<line x1="1002.7" y1="452.59" x2="1015.7" y2="452.59" stroke="#231f20" stroke-width="1.82" stroke-linecap="butt"/>
<line x1="1002.7" y1="448.12" x2="1015.7" y2="448.12" stroke="#231f20" stroke-width="1.82" stroke-linecap="butt"/>
<line x1="1002.7" y1="444.34" x2="1015.7" y2="444.34" stroke="#231f20" stroke-width="1.82" stroke-linecap="butt"/>
<line x1="1002.7" y1="441.07" x2="1015.7" y2="441.07" stroke="#231f20" stroke-width="1.82" stroke-linecap="butt"/>
<line x1="1002.7" y1="438.18" x2="1015.7" y2="438.18" stroke="#231f20" stroke-width="1.82" stroke-linecap="butt"/>
<line x1="1002.7" y1="492.04" x2="1009.2" y2="492.04" stroke="#777" stroke-width="1.17" stroke-linecap="butt"/>
<line x1="1090.9" y1="717.8" x2="1090.9" y2="705.2" stroke="#231f20" stroke-width="1.56" stroke-linecap="butt"/>
<line x1="1267.3" y1="717.8" x2="1267.3" y2="705.2" stroke="#231f20" stroke-width="1.56" stroke-linecap="butt"/>
<line x1="1443.6" y1="717.8" x2="1443.6" y2="705.2" stroke="#231f20" stroke-width="1.56" stroke-linecap="butt"/>
<line x1="1620" y1="717.8" x2="1620" y2="705.2" stroke="#231f20" stroke-width="1.56" stroke-linecap="butt"/>
<text x="1721.2" y="444.8" font-size="26" font-weight="normal" text-anchor="start">1,0</text>
<line x1="1708.2" y1="498.31" x2="1695.2" y2="498.31" stroke="#231f20" stroke-width="2.08" stroke-linecap="butt"/>
<text x="1721.2" y="507.51" font-size="26" font-weight="normal" text-anchor="start">0,8</text>
<line x1="1708.2" y1="561.02" x2="1695.2" y2="561.02" stroke="#231f20" stroke-width="2.08" stroke-linecap="butt"/>
<text x="1721.2" y="570.22" font-size="26" font-weight="normal" text-anchor="start">0,6</text>
<line x1="1708.2" y1="623.73" x2="1695.2" y2="623.73" stroke="#231f20" stroke-width="2.08" stroke-linecap="butt"/>
<text x="1721.2" y="632.93" font-size="26" font-weight="normal" text-anchor="start">0,4</text>
<line x1="1708.2" y1="686.44" x2="1695.2" y2="686.44" stroke="#231f20" stroke-width="2.08" stroke-linecap="butt"/>
<text x="1721.2" y="695.64" font-size="26" font-weight="normal" text-anchor="start">0,2</text>
<rect x="1002.7" y="435.6" width="705.5" height="282.2" fill="none" stroke="#231f20" stroke-width="1.5"/>
<line x1="1708.2" y1="435" x2="1708.2" y2="718.4" stroke="#231f20" stroke-width="2.6" stroke-linecap="butt"/>
<text x="946.2" y="444.9" font-size="26" font-weight="normal">10<tspan font-size="17" dy="-9.2">-4</tspan></text>
<text x="946.2" y="501.34" font-size="26" font-weight="normal">10<tspan font-size="17" dy="-9.2">-5</tspan></text>
<text x="946.2" y="557.78" font-size="26" font-weight="normal">10<tspan font-size="17" dy="-9.2">-6</tspan></text>
<text x="946.2" y="614.22" font-size="26" font-weight="normal">10<tspan font-size="17" dy="-9.2">-7</tspan></text>
<text x="946.2" y="670.66" font-size="26" font-weight="normal">10<tspan font-size="17" dy="-9.2">-8</tspan></text>
<text x="946.2" y="727.1" font-size="26" font-weight="normal">10<tspan font-size="17" dy="-9.2">-9</tspan></text>
<polyline fill="none" stroke="#231f20" stroke-width="1.2" points="1090.9,492.1 1267.3,593.8 1443.6,599.4 1620,597.1"/>
<polyline fill="none" stroke="#231f20" stroke-width="2.5" points="1090.9,438.5 1267.3,523.3 1443.6,557.3 1620,566.9"/>
<circle cx="1090.9" cy="492.1" r="13.8" fill="#231f20"/>
<circle cx="1267.3" cy="593.8" r="13.8" fill="#231f20"/>
<circle cx="1443.6" cy="599.4" r="13.8" fill="#231f20"/>
<circle cx="1620" cy="597.1" r="13.8" fill="#231f20"/>
<rect x="1079.35" y="426.95" width="23.1" height="23.1" fill="#fff" stroke="#231f20" stroke-width="2.2"/>
<rect x="1255.75" y="511.75" width="23.1" height="23.1" fill="#fff" stroke="#231f20" stroke-width="2.2"/>
<rect x="1432.05" y="545.75" width="23.1" height="23.1" fill="#fff" stroke="#231f20" stroke-width="2.2"/>
<rect x="1608.45" y="555.35" width="23.1" height="23.1" fill="#fff" stroke="#231f20" stroke-width="2.2"/>
<line x1="1028.4" y1="618.9" x2="1077" y2="618.9" stroke="#231f20" stroke-width="1" stroke-linecap="butt"/>
<circle cx="1052.7" cy="618.9" r="13.8" fill="#231f20"/>
<line x1="1027.9" y1="669.6" x2="1078" y2="669.6" stroke="#231f20" stroke-width="2.4" stroke-linecap="butt"/>
<rect x="1041.05" y="657.85" width="23.5" height="23.5" fill="#fff" stroke="#231f20" stroke-width="2"/>
<text x="1088.1" y="623.8" font-size="26" font-weight="normal" text-anchor="start">Q<tspan font-size="15" dy="8.6">p</tspan></text>
<text x="1088" y="675.7" font-size="33" font-weight="normal" text-anchor="start">n<tspan font-size="21" dy="10.9">p</tspan></text>
<text x="1321.7" y="701.7" font-size="30" font-weight="normal" text-anchor="start">5% wt NaCl + acetic acid</text>
<text x="1090.9" y="763" font-size="32.6" font-weight="normal" text-anchor="middle">0 min</text>
<text x="1267.3" y="763" font-size="32.6" font-weight="normal" text-anchor="middle">20 min</text>
<text x="1443.6" y="763" font-size="32.6" font-weight="normal" text-anchor="middle">40 min</text>
<text x="1620" y="763" font-size="32.6" font-weight="normal" text-anchor="middle">60 min</text>
<text x="1355.3" y="826.8" font-size="38.6" font-weight="normal" text-anchor="middle">Anodizing time</text>
<text transform="translate(917.5 677.5) rotate(-90)" font-size="34.5" font-weight="normal">Qp/<tspan font-family="'Liberation Serif','Times New Roman',serif" font-size="36.91" dx="-0.9">Ω</tspan><tspan font-size="22.5" dx="-0.9" dy="-17.2">-1</tspan><tspan font-size="34.5" dy="17.2">cm</tspan><tspan font-size="22.5" dy="-17.2">-2</tspan><tspan font-size="34.5" dy="17.2"> s</tspan><tspan font-size="22.5" dy="-17.2">n</tspan></text>
<text transform="translate(1809.8 653.4) rotate(-90)" font-size="32.3" font-weight="normal">Exponents</text>
<line x1="1002.8" y1="1127.31" x2="1013.1" y2="1127.31" stroke="#231f20" stroke-width="1.3" stroke-linecap="butt"/>
<line x1="1002.8" y1="1117.37" x2="1013.1" y2="1117.37" stroke="#231f20" stroke-width="1.3" stroke-linecap="butt"/>
<line x1="1002.8" y1="1110.32" x2="1013.1" y2="1110.32" stroke="#231f20" stroke-width="1.3" stroke-linecap="butt"/>
<line x1="1002.8" y1="1104.85" x2="1013.1" y2="1104.85" stroke="#231f20" stroke-width="1.3" stroke-linecap="butt"/>
<line x1="1002.8" y1="1100.38" x2="1013.1" y2="1100.38" stroke="#231f20" stroke-width="1.3" stroke-linecap="butt"/>
<line x1="1002.8" y1="1096.6" x2="1013.1" y2="1096.6" stroke="#231f20" stroke-width="1.3" stroke-linecap="butt"/>
<line x1="1002.8" y1="1093.33" x2="1013.1" y2="1093.33" stroke="#231f20" stroke-width="1.3" stroke-linecap="butt"/>
<line x1="1002.8" y1="1090.44" x2="1013.1" y2="1090.44" stroke="#231f20" stroke-width="1.3" stroke-linecap="butt"/>
<line x1="1002.8" y1="1070.87" x2="1013.1" y2="1070.87" stroke="#231f20" stroke-width="1.3" stroke-linecap="butt"/>
<line x1="1002.8" y1="1060.93" x2="1013.1" y2="1060.93" stroke="#231f20" stroke-width="1.3" stroke-linecap="butt"/>
<line x1="1002.8" y1="1053.88" x2="1013.1" y2="1053.88" stroke="#231f20" stroke-width="1.3" stroke-linecap="butt"/>
<line x1="1002.8" y1="1048.41" x2="1013.1" y2="1048.41" stroke="#231f20" stroke-width="1.3" stroke-linecap="butt"/>
<line x1="1002.8" y1="1043.94" x2="1013.1" y2="1043.94" stroke="#231f20" stroke-width="1.3" stroke-linecap="butt"/>
<line x1="1002.8" y1="1040.16" x2="1013.1" y2="1040.16" stroke="#231f20" stroke-width="1.3" stroke-linecap="butt"/>
<line x1="1002.8" y1="1036.89" x2="1013.1" y2="1036.89" stroke="#231f20" stroke-width="1.3" stroke-linecap="butt"/>
<line x1="1002.8" y1="1034" x2="1013.1" y2="1034" stroke="#231f20" stroke-width="1.3" stroke-linecap="butt"/>
<line x1="990.8" y1="1087.86" x2="1002.8" y2="1087.86" stroke="#231f20" stroke-width="1.56" stroke-linecap="butt"/>
<line x1="1002.8" y1="1014.43" x2="1013.1" y2="1014.43" stroke="#231f20" stroke-width="1.3" stroke-linecap="butt"/>
<line x1="1002.8" y1="1004.49" x2="1013.1" y2="1004.49" stroke="#231f20" stroke-width="1.3" stroke-linecap="butt"/>
<line x1="1002.8" y1="997.44" x2="1013.1" y2="997.44" stroke="#231f20" stroke-width="1.3" stroke-linecap="butt"/>
<line x1="1002.8" y1="991.97" x2="1013.1" y2="991.97" stroke="#231f20" stroke-width="1.3" stroke-linecap="butt"/>
<line x1="1002.8" y1="987.5" x2="1013.1" y2="987.5" stroke="#231f20" stroke-width="1.3" stroke-linecap="butt"/>
<line x1="1002.8" y1="983.72" x2="1013.1" y2="983.72" stroke="#231f20" stroke-width="1.3" stroke-linecap="butt"/>
<line x1="1002.8" y1="980.45" x2="1013.1" y2="980.45" stroke="#231f20" stroke-width="1.3" stroke-linecap="butt"/>
<line x1="1002.8" y1="977.56" x2="1013.1" y2="977.56" stroke="#231f20" stroke-width="1.3" stroke-linecap="butt"/>
<line x1="990.8" y1="1031.42" x2="1002.8" y2="1031.42" stroke="#231f20" stroke-width="1.56" stroke-linecap="butt"/>
<line x1="1002.8" y1="957.99" x2="1013.1" y2="957.99" stroke="#231f20" stroke-width="1.3" stroke-linecap="butt"/>
<line x1="1002.8" y1="948.05" x2="1013.1" y2="948.05" stroke="#231f20" stroke-width="1.3" stroke-linecap="butt"/>
<line x1="1002.8" y1="941" x2="1013.1" y2="941" stroke="#231f20" stroke-width="1.3" stroke-linecap="butt"/>
<line x1="1002.8" y1="935.53" x2="1013.1" y2="935.53" stroke="#231f20" stroke-width="1.3" stroke-linecap="butt"/>
<line x1="1002.8" y1="931.06" x2="1013.1" y2="931.06" stroke="#231f20" stroke-width="1.3" stroke-linecap="butt"/>
<line x1="1002.8" y1="927.28" x2="1013.1" y2="927.28" stroke="#231f20" stroke-width="1.3" stroke-linecap="butt"/>
<line x1="1002.8" y1="924.01" x2="1013.1" y2="924.01" stroke="#231f20" stroke-width="1.3" stroke-linecap="butt"/>
<line x1="1002.8" y1="921.12" x2="1013.1" y2="921.12" stroke="#231f20" stroke-width="1.3" stroke-linecap="butt"/>
<line x1="990.8" y1="974.98" x2="1002.8" y2="974.98" stroke="#231f20" stroke-width="1.56" stroke-linecap="butt"/>
<line x1="1002.8" y1="901.55" x2="1013.1" y2="901.55" stroke="#231f20" stroke-width="1.3" stroke-linecap="butt"/>
<line x1="1002.8" y1="891.61" x2="1013.1" y2="891.61" stroke="#231f20" stroke-width="1.3" stroke-linecap="butt"/>
<line x1="1002.8" y1="884.56" x2="1013.1" y2="884.56" stroke="#231f20" stroke-width="1.3" stroke-linecap="butt"/>
<line x1="1002.8" y1="879.09" x2="1013.1" y2="879.09" stroke="#231f20" stroke-width="1.3" stroke-linecap="butt"/>
<line x1="1002.8" y1="874.62" x2="1013.1" y2="874.62" stroke="#231f20" stroke-width="1.3" stroke-linecap="butt"/>
<line x1="1002.8" y1="870.84" x2="1013.1" y2="870.84" stroke="#231f20" stroke-width="1.3" stroke-linecap="butt"/>
<line x1="1002.8" y1="867.57" x2="1013.1" y2="867.57" stroke="#231f20" stroke-width="1.3" stroke-linecap="butt"/>
<line x1="1002.8" y1="864.68" x2="1013.1" y2="864.68" stroke="#231f20" stroke-width="1.3" stroke-linecap="butt"/>
<line x1="990.8" y1="918.54" x2="1002.8" y2="918.54" stroke="#231f20" stroke-width="1.56" stroke-linecap="butt"/>
<line x1="1090.9" y1="1144.3" x2="1090.9" y2="1156.8" stroke="#231f20" stroke-width="1.43" stroke-linecap="butt"/>
<line x1="1267.3" y1="1144.3" x2="1267.3" y2="1156.8" stroke="#231f20" stroke-width="1.43" stroke-linecap="butt"/>
<line x1="1443.8" y1="1144.3" x2="1443.8" y2="1156.8" stroke="#231f20" stroke-width="1.43" stroke-linecap="butt"/>
<line x1="1619.9" y1="1144.3" x2="1619.9" y2="1156.8" stroke="#231f20" stroke-width="1.43" stroke-linecap="butt"/>
<line x1="1708.6" y1="862.1" x2="1718.1" y2="862.1" stroke="#231f20" stroke-width="1.95" stroke-linecap="butt"/>
<text x="1729.4" y="871" font-size="24.2" font-weight="bold" text-anchor="start">1,0</text>
<line x1="1708.6" y1="924.81" x2="1718.1" y2="924.81" stroke="#231f20" stroke-width="1.95" stroke-linecap="butt"/>
<text x="1729.4" y="933.71" font-size="24.2" font-weight="bold" text-anchor="start">0,8</text>
<line x1="1708.6" y1="987.52" x2="1718.1" y2="987.52" stroke="#231f20" stroke-width="1.95" stroke-linecap="butt"/>
<text x="1729.4" y="996.42" font-size="24.2" font-weight="bold" text-anchor="start">0,6</text>
<line x1="1708.6" y1="1050.23" x2="1718.1" y2="1050.23" stroke="#231f20" stroke-width="1.95" stroke-linecap="butt"/>
<text x="1729.4" y="1059.13" font-size="24.2" font-weight="bold" text-anchor="start">0,4</text>
<line x1="1708.6" y1="1112.94" x2="1718.1" y2="1112.94" stroke="#231f20" stroke-width="1.95" stroke-linecap="butt"/>
<text x="1729.4" y="1121.84" font-size="24.2" font-weight="bold" text-anchor="start">0,2</text>
<line x1="990.8" y1="862.1" x2="1708.6" y2="862.1" stroke="#231f20" stroke-width="1.69" stroke-linecap="butt"/>
<line x1="990.8" y1="1144.3" x2="1708.6" y2="1144.3" stroke="#231f20" stroke-width="1.69" stroke-linecap="butt"/>
<line x1="1002.8" y1="862.1" x2="1002.8" y2="1144.3" stroke="#231f20" stroke-width="1.69" stroke-linecap="butt"/>
<line x1="1708.6" y1="861.5" x2="1708.6" y2="1144.9" stroke="#231f20" stroke-width="2.08" stroke-linecap="butt"/>
<text x="937.9" y="870.4" font-size="24" font-weight="bold">10<tspan font-size="16" dy="-8.6">-4</tspan></text>
<text x="937.9" y="926.84" font-size="24" font-weight="bold">10<tspan font-size="16" dy="-8.6">-5</tspan></text>
<text x="937.9" y="983.28" font-size="24" font-weight="bold">10<tspan font-size="16" dy="-8.6">-6</tspan></text>
<text x="937.9" y="1039.72" font-size="24" font-weight="bold">10<tspan font-size="16" dy="-8.6">-7</tspan></text>
<text x="937.9" y="1096.16" font-size="24" font-weight="bold">10<tspan font-size="16" dy="-8.6">-8</tspan></text>
<text x="937.9" y="1152.6" font-size="24" font-weight="bold">10<tspan font-size="16" dy="-8.6">-9</tspan></text>
<polyline fill="none" stroke="#231f20" stroke-width="1.4" points="1090.9,922.1 1267.3,998.1 1443.8,1015.4 1619.9,1007.8"/>
<polyline fill="none" stroke="#231f20" stroke-width="2.3" points="1090.9,874.3 1267.3,981"/>
<polyline fill="none" stroke="#231f20" stroke-width="1.8" points="1267.3,981 1443.8,974.8 1619.9,1012.7"/>
<circle cx="1090.9" cy="922.1" r="13.85" fill="#231f20"/>
<circle cx="1267.3" cy="998.1" r="13.85" fill="#231f20"/>
<circle cx="1443.8" cy="1015.4" r="13.85" fill="#231f20"/>
<circle cx="1619.9" cy="1007.8" r="13.85" fill="#231f20"/>
<rect x="1079.15" y="862.55" width="23.5" height="23.5" fill="#fff" stroke="#231f20" stroke-width="1.9"/>
<rect x="1255.55" y="969.25" width="23.5" height="23.5" fill="#fff" stroke="#231f20" stroke-width="1.9"/>
<rect x="1432.05" y="963.05" width="23.5" height="23.5" fill="#fff" stroke="#231f20" stroke-width="1.9"/>
<rect x="1608.15" y="1000.95" width="23.5" height="23.5" fill="#fff" stroke="#231f20" stroke-width="1.9"/>
<line x1="1009.4" y1="1082.6" x2="1057" y2="1082.6" stroke="#231f20" stroke-width="1.3" stroke-linecap="butt"/>
<circle cx="1033" cy="1082.6" r="13.7" fill="#231f20"/>
<line x1="1009" y1="1133.4" x2="1057.7" y2="1133.4" stroke="#231f20" stroke-width="2.4" stroke-linecap="butt"/>
<rect x="1021.75" y="1121.95" width="22.9" height="22.9" fill="#fff" stroke="#231f20" stroke-width="1.9"/>
<text x="1068.9" y="1087.6" font-size="26" font-weight="normal" text-anchor="start">Q<tspan font-size="14.5" dy="8.7">p</tspan></text>
<text x="1069" y="1138.9" font-size="33" font-weight="normal" text-anchor="start">n<tspan font-size="22.5" dy="12.2">p</tspan></text>
<text x="1266.5" y="1127.8" font-size="30" font-weight="normal" text-anchor="start">0.35%&#160; (NH<tspan font-size="19" dy="7.5">4</tspan><tspan dy="-7.5">)</tspan><tspan font-size="19" dy="7.5">2</tspan><tspan dy="-7.5">SO</tspan><tspan font-size="19" dy="7.5">4</tspan><tspan dy="-7.5"> + 0.05% NaCl</tspan></text>
<text x="1090.9" y="1197.9" font-size="29.6" font-weight="normal" text-anchor="middle">0 min</text>
<text x="1267.3" y="1197.9" font-size="29.6" font-weight="normal" text-anchor="middle">20 min</text>
<text x="1443.8" y="1197.9" font-size="29.6" font-weight="normal" text-anchor="middle">40 min</text>
<text x="1619.9" y="1197.9" font-size="29.6" font-weight="normal" text-anchor="middle">60 min</text>
<text x="1354.5" y="1260.2" font-size="38.6" font-weight="normal" text-anchor="middle">Anodizing time</text>
<text transform="translate(908.5 1105.2) rotate(-90)" font-size="34.5" font-weight="normal">Qp/<tspan font-family="'Liberation Serif','Times New Roman',serif" font-size="36.91" dx="-0.9">Ω</tspan><tspan font-size="22.5" dx="-0.9" dy="-17.2">-1</tspan><tspan font-size="34.5" dy="17.2">cm</tspan><tspan font-size="22.5" dy="-17.2">-2</tspan><tspan font-size="34.5" dy="17.2"> s</tspan><tspan font-size="22.5" dy="-17.2">n</tspan></text>
<text transform="translate(1814 1074.4) rotate(-90)" font-size="29.8" font-weight="normal">Exponents</text>
</svg>
</body>
</html>
